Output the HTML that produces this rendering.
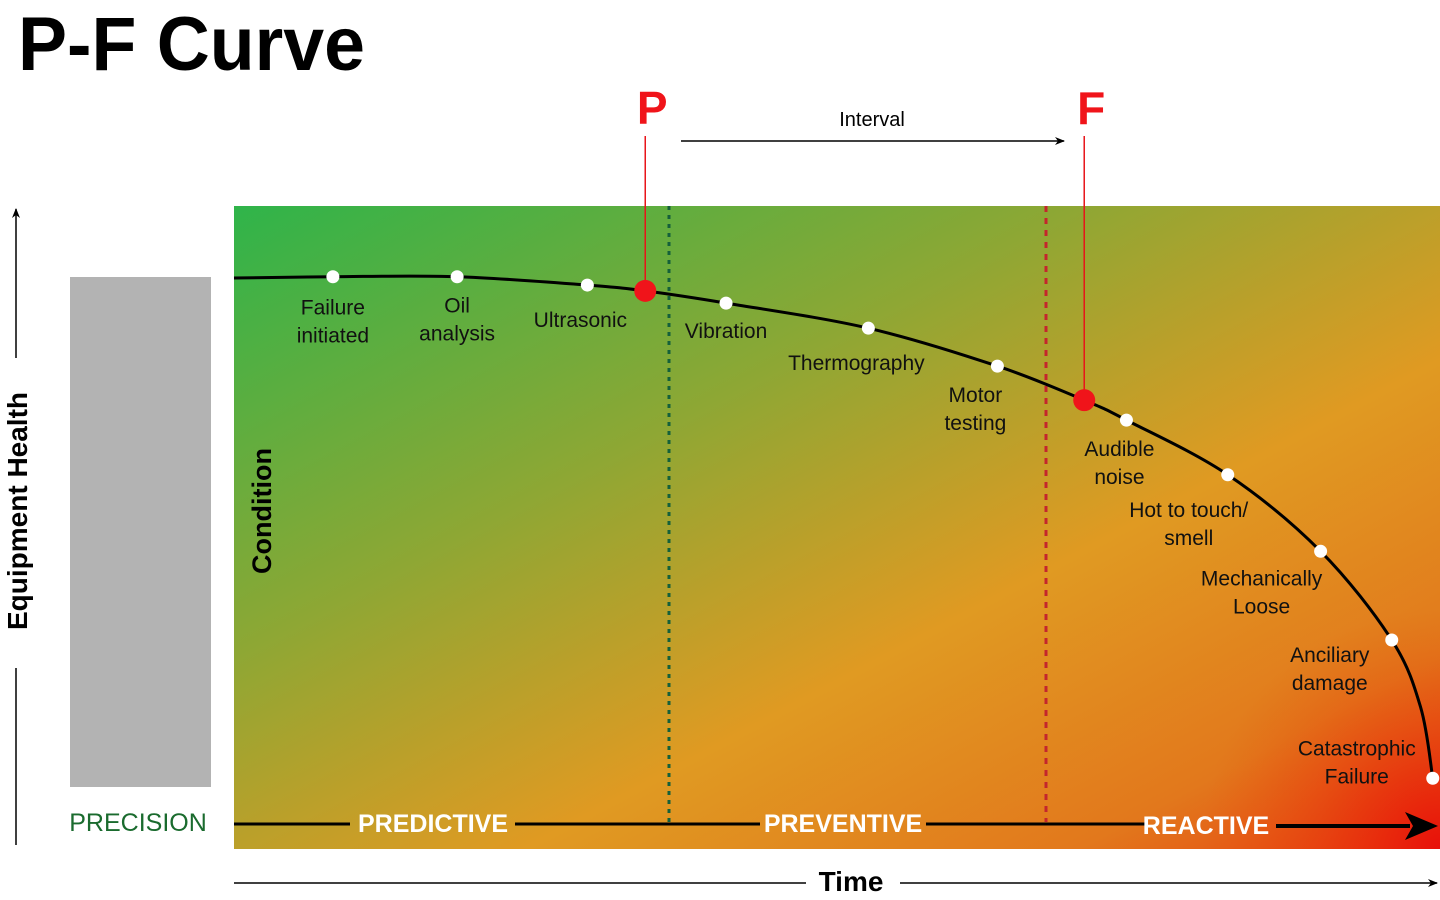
<!DOCTYPE html>
<html><head><meta charset="utf-8"><style>
body{margin:0;background:#fff;width:1440px;height:900px;overflow:hidden}
svg{display:block;font-family:"Liberation Sans",sans-serif}
</style></head><body>
<svg id="chart" width="1440" height="900" viewBox="0 0 1440 900">
<defs>
<linearGradient id="bg" x1="0" y1="0" x2="1" y2="1" gradientUnits="objectBoundingBox">
<stop offset="0" stop-color="#2fb44a"/>
<stop offset="0.35" stop-color="#8ea734"/>
<stop offset="0.62" stop-color="#e09a22"/>
<stop offset="0.85" stop-color="#e2781c"/>
<stop offset="1" stop-color="#e83a10"/>
</linearGradient>
<radialGradient id="red" cx="1440" cy="849" r="240" gradientUnits="userSpaceOnUse">
<stop offset="0" stop-color="#e8100a" stop-opacity="1"/>
<stop offset="0.5" stop-color="#e8300a" stop-opacity="0.45"/>
<stop offset="1" stop-color="#e8500a" stop-opacity="0"/>
</radialGradient>
<marker id="ah" markerWidth="10" markerHeight="8" refX="9" refY="4" orient="auto" markerUnits="userSpaceOnUse"><path d="M0,0 L10,4 L0,8 L3,4z" fill="#000"/></marker>
</defs>
<text x="18" y="70" font-size="76" font-weight="bold" textLength="347" lengthAdjust="spacingAndGlyphs">P-F Curve</text>

<rect x="234" y="206" width="1206" height="643" fill="url(#bg)"/>
<rect x="234" y="206" width="1206" height="643" fill="url(#red)"/>

<line x1="16" y1="845" x2="16" y2="668" stroke="#000" stroke-width="1.5"/>
<line x1="16" y1="358" x2="16" y2="209" stroke="#000" stroke-width="1.5" marker-end="url(#ah)"/>
<text transform="translate(27,511) rotate(-90)" text-anchor="middle" font-size="28" font-weight="bold">Equipment Health</text>

<rect x="70" y="277" width="141" height="510" fill="#b3b3b3"/>
<text x="138" y="831" text-anchor="middle" font-size="25" fill="#1a6b2e">PRECISION</text>

<line x1="234" y1="883" x2="806" y2="883" stroke="#000" stroke-width="1.5"/>
<line x1="900" y1="883" x2="1437" y2="883" stroke="#000" stroke-width="1.5" marker-end="url(#ah)"/>
<text x="851" y="891" text-anchor="middle" font-size="28" font-weight="bold">Time</text>

<text transform="translate(271,511) rotate(-90)" text-anchor="middle" font-size="27" font-weight="bold">Condition</text>

<line x1="681" y1="141" x2="1064" y2="141" stroke="#000" stroke-width="1.5" marker-end="url(#ah)"/>
<text x="872" y="126" text-anchor="middle" font-size="20">Interval</text>

<line x1="669" y1="206" x2="669" y2="822" stroke="#14603a" stroke-width="3" stroke-dasharray="4,5"/>
<line x1="1046" y1="206" x2="1046" y2="822" stroke="#c4262c" stroke-width="3" stroke-dasharray="6,6"/>

<line x1="234" y1="824" x2="350" y2="824" stroke="#000" stroke-width="3"/>
<line x1="515" y1="824" x2="760" y2="824" stroke="#000" stroke-width="3"/>
<line x1="926" y1="824" x2="1145" y2="824" stroke="#000" stroke-width="3"/>
<line x1="1276" y1="826" x2="1410" y2="826" stroke="#000" stroke-width="4"/>
<path d="M1405,812 L1438,826 L1405,840 L1413,826z" fill="#000"/>
<text x="433" y="832" text-anchor="middle" font-size="25" font-weight="bold" fill="#fff">PREDICTIVE</text>
<text x="843" y="832" text-anchor="middle" font-size="25" font-weight="bold" fill="#fff">PREVENTIVE</text>
<text x="1206" y="834" text-anchor="middle" font-size="25" font-weight="bold" fill="#fff">REACTIVE</text>

<g id="marks"></g>
</svg>
<script>
// P-F curve data: time (0-100), condition (0-100)
const curveTime = [0, 8.2, 18.5, 29.3, 34.1, 40.8, 52.6, 63.3, 70.5, 74.0, 82.4, 90.1, 96.0, 98.4, 99.4];
const curveCond = [88.8, 89.0, 89.0, 87.7, 86.8, 84.9, 81.0, 75.1, 69.8, 66.7, 58.2, 46.3, 32.5, 22.0, 11.0];
const stageNames = ["Failure initiated","Oil analysis","Ultrasonic","Vibration","Thermography","Motor testing","Audible noise","Hot to touch/ smell","Mechanically Loose","Anciliary damage","Catastrophic Failure"];
const stageTime = [8.2, 18.5, 29.3, 40.8, 52.6, 63.3, 74.0, 82.4, 90.1, 96.0, 99.4];
const stageCond = [89.0, 89.0, 87.7, 84.9, 81.0, 75.1, 66.7, 58.2, 46.3, 32.5, 11.0];
const pfNames = ["P","F"];
const pfTime = [34.1, 70.5];
const pfCond = [86.8, 69.8];

const X0=234, X1=1440, Y0=849, Y1=206;
const xs = t => X0 + (X1-X0)*t/100;
const ys = c => Y0 - (Y0-Y1)*c/100;
const NS="http://www.w3.org/2000/svg";
const g=document.getElementById('marks');
function mk(tag,attrs){const e=document.createElementNS(NS,tag);for(const k in attrs)e.setAttribute(k,attrs[k]);g.appendChild(e);return e;}

const pts=curveTime.map((t,i)=>[xs(t),ys(curveCond[i])]);
let d=`M${pts[0][0]},${pts[0][1]}`;
for(let i=0;i<pts.length-1;i++){
  const p0=pts[Math.max(i-1,0)],p1=pts[i],p2=pts[i+1],p3=pts[Math.min(i+2,pts.length-1)];
  const c1=[p1[0]+(p2[0]-p0[0])/6,p1[1]+(p2[1]-p0[1])/6];
  const c2=[p2[0]-(p3[0]-p1[0])/6,p2[1]-(p3[1]-p1[1])/6];
  d+=` C${c1[0]},${c1[1]} ${c2[0]},${c2[1]} ${p2[0]},${p2[1]}`;
}
const curve=mk('path',{d:d,fill:'none',stroke:'#000','stroke-width':3});



const lblOff=[[0,38],[0,36],[-7,42],[0,35],[-12,42],[-22,36],[-7,36],[-39,42],[-59,34],[-62,22],[-76,-23]];
stageNames.forEach((name,i)=>{
  const x=xs(stageTime[i]), y=ys(stageCond[i]);
  const c=mk('circle',{cx:x,cy:y,r:6.5,fill:'#fff'});
  
  
  const words=name.split(' ');
  let lines = words.length>1 ? [words[0], words.slice(1).join(' ')] : [name];
  if(name==="Hot to touch/ smell") lines=["Hot to touch/","smell"];
  const t=mk('text',{x:x+lblOff[i][0],y:y+lblOff[i][1],'text-anchor':'middle','font-size':21,fill:'#111'});
  
  
  lines.forEach((l,j)=>{const s=document.createElementNS(NS,'tspan');s.setAttribute('x',x+lblOff[i][0]);s.setAttribute('dy',j?28:0);s.textContent=l;t.appendChild(s);});
});

pfNames.forEach((n,i)=>{
  const x=xs(pfTime[i]), y=ys(pfCond[i]);
  const l=mk('line',{x1:x,y1:136,x2:x,y2:y,stroke:'#e8141a','stroke-width':1.5});
  
  
  const c=mk('circle',{cx:x,cy:y,r:11,fill:'#f0141a'});
  
  
  const t=mk('text',{x:x+7,y:124,'text-anchor':'middle','font-size':46,'font-weight':'bold',fill:'#f0141a'});
  
  
  t.textContent=n;
});
</script>
</body></html>
